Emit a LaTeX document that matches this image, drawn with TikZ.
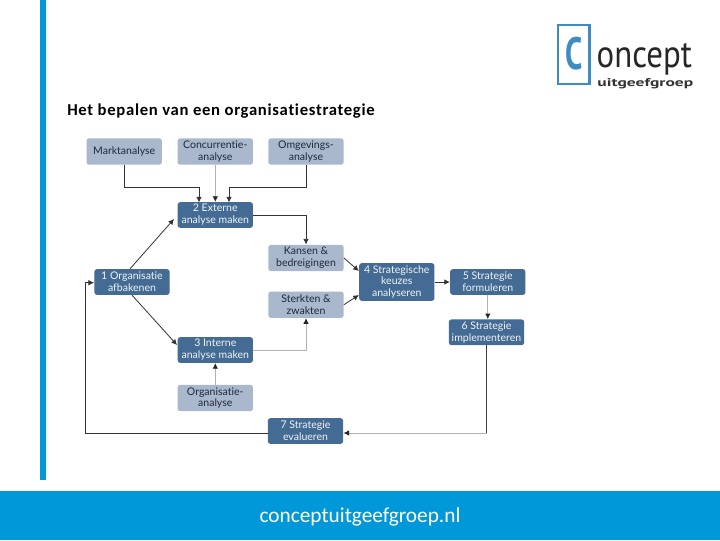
\documentclass[tikz,border=0pt]{standalone}
\usepackage{fontspec}
\setmainfont[Ligatures=NoCommon]{Carlito}
\newfontfamily\titlef[Ligatures=NoCommon,LetterSpace=4.2]{Carlito}
\newfontfamily\boxf[Ligatures=NoCommon]{Lato}
\newfontfamily\logof{PT Sans}
\usetikzlibrary{arrows.meta}
\definecolor{dark}{HTML}{446B93}
\definecolor{light}{HTML}{A9B8CC}
\definecolor{bar}{HTML}{0098D9}
\definecolor{logo}{HTML}{3E8CC4}
\definecolor{ink}{HTML}{1F2A3A}
\tikzset{
 pbox/.style={rounded corners=2pt,minimum width=56.5pt,inner sep=0pt,align=center,font=\boxf\fontsize{7.9pt}{8.9pt}\selectfont},
 darkbox/.style={pbox,fill=dark,text=white!92!dark,minimum height=19.3pt},
 lightbox/.style={pbox,fill=light,text=ink,minimum height=19.8pt},
 conn/.style={draw=black!80,line width=0.6pt,-{Latex[length=4.2pt,width=4.2pt]}},
 greyconn/.style={draw=black!30,line width=0.7pt,-{Latex[length=4.2pt,width=4.2pt,color=black!85]}},
}
\begin{document}
\begin{tikzpicture}[x=0.75pt,y=-0.75pt]
\useasboundingbox (0,0) rectangle (720,540);
\fill[white] (0,0) rectangle (720,540);
\fill[bar] (40,0) rectangle (46,480);
\fill[bar] (0,491) rectangle (720,540);
\node[text=white,font=\fontsize{16pt}{18pt}\selectfont] (footer) at (360,517) {conceptuitgeefgroep.nl};
\node[anchor=base west,inner sep=0pt,font=\titlef\fontsize{12.5pt}{14pt}\selectfont\bfseries,text=black] (title) at (67,115) {Het bepalen van een organisatiestrategie};
% logo
\node[draw=logo,line width=1.9pt,fill=white,minimum width=23.6pt,minimum height=44pt,inner sep=0pt] (logoframe) at (573.5,54.5) {};
\node[inner sep=0pt,text=logo,font=\logof\bfseries\fontsize{34pt}{34pt}\selectfont,xscale=0.68] (logoC) at (574,54) {C};
\node[anchor=base west,inner sep=0pt,text=black!85,font=\logof\fontsize{29pt}{29pt}\selectfont,xscale=0.85] (logotext) at (596.5,67) {oncept};
\node[anchor=base west,inner sep=0pt,text=black!80,font=\logof\bfseries\fontsize{8.5pt}{9pt}\selectfont,xscale=1.54] (logosub) at (597,86) {uitgeefgroep};
% nodes
\node[lightbox] (markt) at (124.2,151.5) {Marktanalyse};
\node[lightbox] (conc) at (215.3,151.5) {Concurrentie-\\analyse};
\node[lightbox] (omg) at (306,151.5) {Omgevings-\\analyse};
\node[darkbox] (ext) at (215.3,215) {2 Externe\\analyse maken};
\node[darkbox] (org) at (132,282) {1 Organisatie\\afbakenen};
\node[lightbox] (kans) at (306,258) {Kansen \&\\bedreigingen};
\node[lightbox] (sterk) at (306,304.7) {Sterkten \&\\zwakten};
\node[darkbox,minimum height=28.3pt] (keuze) at (396.8,282) {4 Strategische\\keuzes\\analyseren};
\node[darkbox] (form) at (487.8,282) {5 Strategie\\formuleren};
\node[darkbox] (impl) at (486.5,332.3) {6 Strategie\\implementeren};
\node[darkbox] (eval) at (305.5,431) {7 Strategie\\evalueren};
\node[darkbox] (int) at (215.3,350) {3 Interne\\analyse maken};
\node[lightbox] (orga) at (215.3,398) {Organisatie-\\analyse};
% connectors
\draw[conn] (markt.south) |- (199,187) -- (199,202.4);
\draw[greyconn] (conc) -- (ext);
\draw[conn] (omg.south) |- (229,187) -- (229,202.4);
\draw[conn] (ext.east) -| (kans.north);
\draw[conn] (kans.east) -- (keuze.west |- 0,271);
\draw[conn] (sterk.east) -- (keuze.west |- 0,295);
\draw[greyconn] (int.east) -| (sterk.south);
\draw[greyconn] (orga) -- (int);
\draw[conn] (org.north) ++(-2,0) -- (174,219);
\draw[conn] (org.south) -- (177,345);
\draw[conn] (keuze.east |- form) -- (form.west);
\draw[greyconn] (form.south) -- (form.south |- impl.north);
\draw[draw=black!75,line width=0.7pt] (impl.south) -- (486.5,433);
\draw[greyconn] (486.5,433) -- (eval.east |- 0,433);
\draw[conn] (eval.west |- 0,433.7) -| (85.3,282.7) -- (org.west |- 0,282.7);
\end{tikzpicture}
\end{document}
